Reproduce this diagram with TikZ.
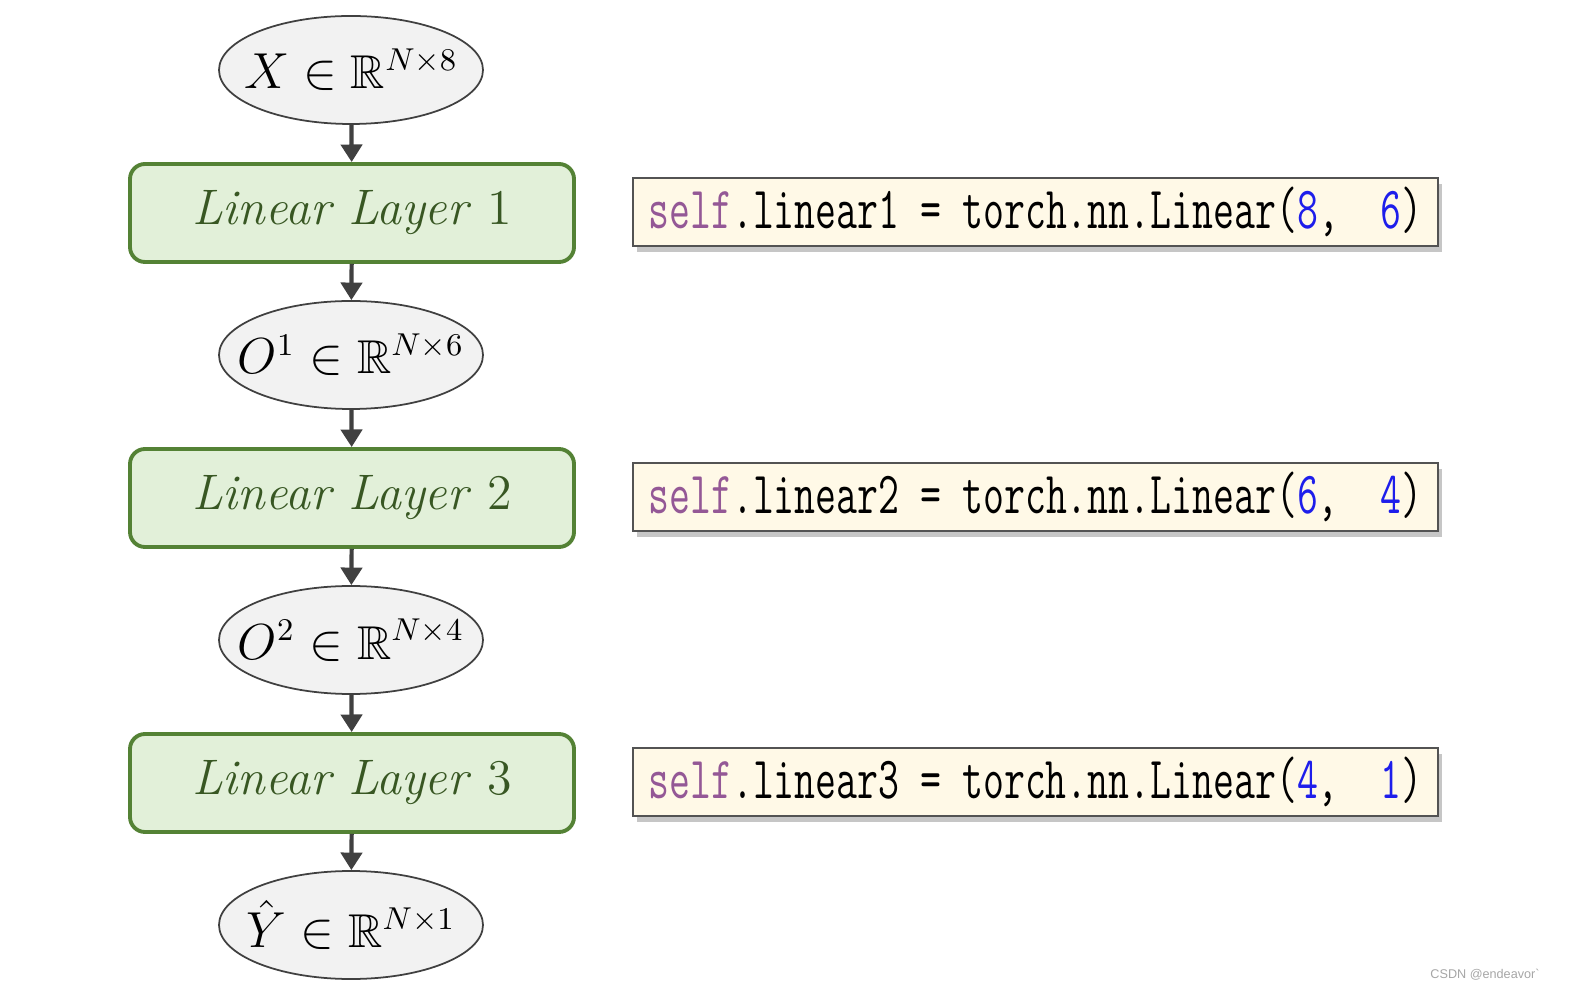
\documentclass[tikz,border=0pt]{standalone}
\usepackage{amsmath,amssymb}
\usepackage{graphicx}
\usepackage{fontspec}
\newfontfamily\markfont{Liberation Sans}
\usepackage{tikz}
\usetikzlibrary{shapes,arrows.meta,positioning,shadows,calc}

\definecolor{laygreen}{RGB}{84,130,53}
\definecolor{layfill}{RGB}{226,240,217}
\definecolor{laytext}{RGB}{56,87,35}
\definecolor{tensfill}{RGB}{242,242,242}
\definecolor{darkline}{RGB}{64,64,64}
\definecolor{codefill}{RGB}{255,249,231}
\definecolor{selfpurple}{RGB}{148,88,150}
\definecolor{numblue}{RGB}{30,30,235}

\newcommand{\pycode}[1]{\scalebox{0.68}[1]{\fontsize{17}{20}\selectfont\ttfamily #1}}
\newcommand{\num}[1]{\textcolor{numblue}{#1}}

\tikzset{
    tensor/.style={ellipse, draw=darkline, line width=0.5pt, fill=tensfill, minimum width=2.64cm, minimum height=1.08cm, inner xsep=-10pt, inner ysep=-4pt, font=\fontsize{13.5}{16}\selectfont},
    layer/.style={rectangle, rounded corners=0.15cm, draw=laygreen, line width=1.1pt, fill=layfill, minimum width=4.44cm, minimum height=0.98cm, text=laytext, font=\fontsize{14.2}{17}\selectfont},
    codebox/.style={rectangle, draw=darkline!90, line width=0.5pt, fill=codefill, minimum width=8.05cm, minimum height=0.68cm, inner sep=0pt, drop shadow={shadow xshift=1.2pt, shadow yshift=-1.6pt, opacity=0.45}},
    flow/.style={-{Triangle[length=5pt, width=6pt]}, line width=1.2pt, draw=darkline}
}

\begin{document}
\begin{tikzpicture}
    \useasboundingbox (0,0) rectangle (15.83,-10);

    \node[tensor] (x) at (3.51,-0.70) {$X \in \mathbb{R}^{N\times 8}$};
    \node[layer] (lay1) at (3.52,-2.13) {\textit{Linear Layer} 1};
    \node[tensor] (o1) at (3.51,-3.55) {$O^1 \in \mathbb{R}^{N\times 6}$};
    \node[layer] (lay2) at (3.52,-4.98) {\textit{Linear Layer} 2};
    \node[tensor] (o2) at (3.51,-6.40) {$O^2 \in \mathbb{R}^{N\times 4}$};
    \node[layer] (lay3) at (3.52,-7.83) {\textit{Linear Layer} 3};
    \node[tensor] (yhat) at (3.51,-9.25) {$\hat{Y} \in \mathbb{R}^{N\times 1}$};

    \node[codebox] (code1) at (10.355,-2.12) {\pycode{\textcolor{selfpurple}{self}.linear1 = torch.nn.Linear(\num{8},~~\num{6})}};
    \node[codebox] (code2) at (10.355,-4.97) {\pycode{\textcolor{selfpurple}{self}.linear2 = torch.nn.Linear(\num{6},~~\num{4})}};
    \node[codebox] (code3) at (10.355,-7.82) {\pycode{\textcolor{selfpurple}{self}.linear3 = torch.nn.Linear(\num{4},~~\num{1})}};

    \draw[flow] (x) -- (lay1);
    \draw[flow] (lay1) -- (o1);
    \draw[flow] (o1) -- (lay2);
    \draw[flow] (lay2) -- (o2);
    \draw[flow] (o2) -- (lay3);
    \draw[flow] (lay3) -- (yhat);

    \node[text=gray!70, font=\markfont\fontsize{3.6}{4}\selectfont, anchor=east] (mark) at (15.52,-9.75) {CSDN @endeavor`};
\end{tikzpicture}
\end{document}
